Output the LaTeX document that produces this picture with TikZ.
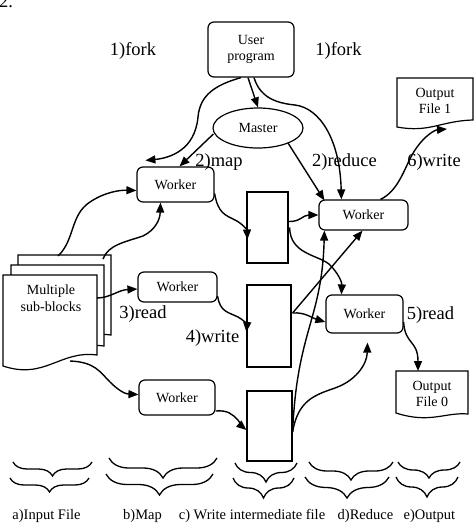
\documentclass[tikz,border=0pt]{standalone}
\usepackage{fontspec}
\setmainfont{Liberation Serif}
\usetikzlibrary{arrows.meta,calc,decorations.pathreplacing,shapes.geometric}
\newcommand\myfA{\fontsize{14}{16.5}\selectfont}
\newcommand\myfB{\fontsize{18.5}{20}\selectfont}
\newcommand\myfC{\fontsize{14.5}{17}\selectfont}
\begin{document}
\begin{tikzpicture}[x=1pt,y=-1pt,
  box/.style={draw,line width=1.2pt,rounded corners=6pt,inner sep=0pt,font=\myfA,align=center},
  rectbox/.style={draw,line width=1.2pt,inner sep=0pt},
  ellbox/.style={draw,ellipse,line width=1.2pt,inner sep=0pt,font=\myfA},
  docshape/.style={draw,line width=1.2pt,fill=white},
  doctext/.style={font=\myfA,align=center,inner sep=0pt},
  conn/.style={line width=1.4pt,-{Triangle[length=10pt,width=8pt]}},
  lbl/.style={font=\myfB,inner sep=0pt},
  bottomlbl/.style={font=\myfC,inner sep=0pt},
  brc/.style={decorate,decoration={brace,mirror,amplitude=#1},line width=1.3pt}
]
\useasboundingbox (0,0) rectangle (474,523);

% corner text (cut off)
\node[lbl,anchor=base west] at (-1,7) {2.};

% nodes
\node[box,minimum width=86pt,minimum height=55pt] (user) at (251,49.5) {User\\program};
\node[ellbox,minimum width=90pt,minimum height=40pt] (master) at (258,128) {Master};
\node[box,minimum width=77pt,minimum height=35pt] (w1) at (175.5,184.5) {Worker};
\node[box,minimum width=79pt,minimum height=30pt] (w2) at (177.5,287) {Worker};
\node[box,minimum width=76pt,minimum height=35pt] (w3) at (177,397.5) {Worker};
\node[rectbox,minimum width=41pt,minimum height=71pt] (r1) at (267.5,227.5) {};
\node[rectbox,minimum width=44pt,minimum height=82pt] (r2) at (269,326) {};
\node[rectbox,minimum width=45pt,minimum height=70pt] (r3) at (269.5,426) {};
\node[box,minimum width=89pt,minimum height=30pt] (wr1) at (363.5,215) {Worker};
\node[box,minimum width=77pt,minimum height=38pt] (wr2) at (364.5,314) {Worker};

% input pages
\draw[docshape] (18,255) -- (111,255) -- (111,335) .. controls (74,330) and (59,360) .. (18,346) -- cycle;
\draw[docshape] (11,265) -- (104,265) -- (104,346) .. controls (67,341) and (52,371) .. (11,357) -- cycle;
\draw[docshape] (3,275) -- (97,275) -- (97,355) .. controls (60,350) and (45,380) .. (3,366) -- cycle;
\node[doctext] (blocks) at (51,298) {Multiple\\sub-blocks};

% output files
\draw[docshape] (397,78) -- (473,78) -- (473,120) .. controls (440,121) and (430,133) .. (397,127) -- cycle;
\node[doctext] (out1) at (435,101) {Output\\File 1};
\draw[docshape] (396,371) -- (468,371) -- (468,414) .. controls (445,412) and (430,424) .. (396,413) -- cycle;
\node[doctext] (out0) at (432,394) {Output\\File 0};

% step labels
\node[lbl] at (133,51) {1)fork};
\node[lbl] at (338.5,51) {1)fork};
\node[lbl] at (219,162) {2)map};
\node[lbl] at (344.5,162) {2)reduce};
\node[lbl] at (434,162) {6)write};
\node[lbl] at (143,314) {3)read};
\node[lbl] at (212.5,338) {4)write};
\node[lbl] at (430.5,315) {5)read};

% connectors
\draw[conn] ($(user.south)+(-10,0)$) .. controls (215,85) and (200,95) .. (198,117) .. controls (195,150) and (170,158) .. ($(w1.north west)+(9,-6)$);
\draw[conn] ($(user.south)+(-3,0)$) -- (master.north);
\draw[conn] ($(user.south)+(3,0)$) .. controls (260,97) and (275,103) .. (295,105) .. controls (320,108) and (340,140) .. ($(wr1.north west)+(23,0)$);
\draw[conn] ($(master.west)+(1,6)$) -- ($(w1.north)+(4,0)$);
\draw[conn] ($(master.center)+(30,15)$) -- ($(wr1.north west)+(6,1)$);
\draw[conn] ($(wr1.north)+(17,0)$) .. controls (400,190) and (405,165) .. (415,150) .. controls (425,135) and (435,130) .. ($(out1)+(12,28)$);
\draw[conn] ($(blocks)+(7,-42)$) .. controls (75,240) and (70,215) .. (90,202) .. controls (105,192) and (120,190) .. ($(w1.west)+(0,6)$);
\draw[conn] ($(blocks)+(52,-39)$) .. controls (108,245) and (125,242) .. (143,236) .. controls (155,230) and (160,220) .. ($(w1.south)+(-15,0)$);
\draw[conn] ($(blocks)+(46,0)$) .. controls (110,298) and (118,290) .. ($(w2.west)+(0,2)$);
\draw[conn] ($(blocks)+(19,63)$) .. controls (95,362) and (100,372) .. (110,382) .. controls (118,390) and (125,394) .. ($(w3.west)+(0,-3)$);
\draw[conn] ($(w1.east)+(0,9)$) .. controls (218,213) and (225,215) .. (235,220) .. controls (243,224) and (247,230) .. ($(r1.west)+(1,12)$);
\draw[conn] ($(w2.east)+(0,9)$) .. controls (220,312) and (228,312) .. (238,317) .. controls (245,321) and (247,325) .. ($(r2.west)+(0,6)$);
\draw[conn] ($(w3.east)+(0,13.5)$) .. controls (228,410) and (232,414) .. (238,420) .. controls (241,425) and (244,428) .. ($(r3.west)+(0,4)$);
\draw[conn] ($(r1.east)+(0,-6)$) .. controls (300,222) and (303,215) .. (wr1.west);
\draw[conn] ($(r1.east)+(1,0)$) .. controls (290,255) and (320,255) .. (330,265) .. controls (338,273) and (342,282) .. ($(wr2.north west)+(16,0)$);
\draw[conn] ($(r2.east)+(1,-13)$) -- ($(wr1.south)+(-1,0)$);
\draw[conn] ($(r2.east)+(1,-13)$) .. controls (305,312) and (312,318) .. ($(wr2.west)+(0,8)$);
\draw[conn] ($(r3.east)+(0,6)$) .. controls (297,330) and (322,320) .. ($(wr1.south west)+(6,0)$);
\draw[conn] ($(r3.east)+(0,6)$) .. controls (298,400) and (315,395) .. (335,388) .. controls (355,381) and (367,365) .. ($(wr2.south)+(3,9)$);
\draw[conn] ($(wr2.east)+(0,8)$) .. controls (405,345) and (418,340) .. ($(out0)+(-14,-23)$);

% braces
\draw[brc=14pt] (13,462) -- (92,462);
\draw[brc=14pt] (10,478) -- (89,478);
\draw[brc=20pt] (109,458) -- (217,458);
\draw[brc=21pt] (106,474) -- (213,474);
\draw[brc=19pt] (235,463) -- (297,463);
\draw[brc=20pt] (233,478) -- (294,478);
\draw[brc=18pt] (309,462) -- (393,462);
\draw[brc=21pt] (305,477) -- (389,477);
\draw[brc=16pt] (398,462) -- (460,462);
\draw[brc=20pt] (396,477) -- (458,477);

% bottom labels
\node[bottomlbl] at (46.5,516) {a)Input File};
\node[bottomlbl] at (142.5,516) {b)Map};
\node[bottomlbl] at (252,516) {c) Write intermediate file};
\node[bottomlbl] at (365.5,516) {d)Reduce};
\node[bottomlbl] at (429.5,516) {e)Output};
\end{tikzpicture}
\end{document}
